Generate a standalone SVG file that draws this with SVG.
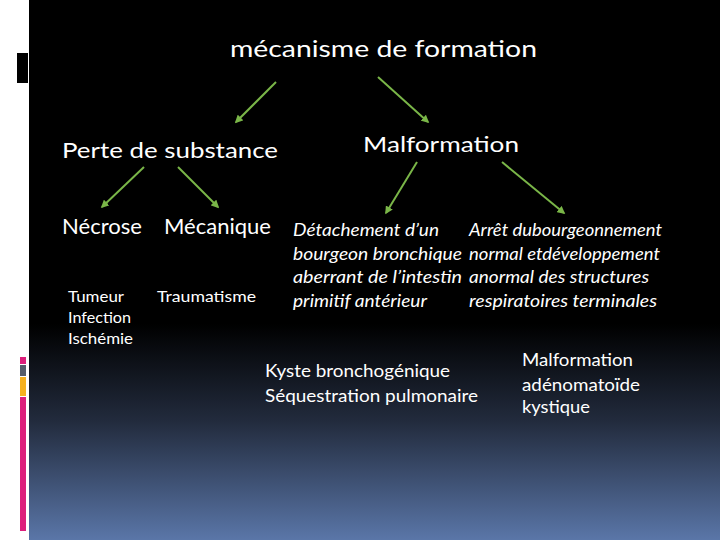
<svg xmlns="http://www.w3.org/2000/svg" width="720" height="540" viewBox="0 0 720 540">
<defs>
<linearGradient id="bg" x1="0" y1="0" x2="0" y2="540" gradientUnits="userSpaceOnUse">
<stop offset="0" stop-color="#000000"/>
<stop offset="0.6" stop-color="#000000"/>
<stop offset="0.78" stop-color="#222b3d"/>
<stop offset="1" stop-color="#5a76a8"/>
</linearGradient>
<marker id="ah" viewBox="0 0 10 10" refX="8" refY="5" markerWidth="8" markerHeight="8" markerUnits="userSpaceOnUse" orient="auto">
<path d="M0,0 L10,5 L0,10 z" fill="#7ab648"/>
</marker>
<style>
.t{fill:#ffffff;font-family:Lato,"Liberation Sans","DejaVu Sans",sans-serif}
.it{font-style:italic}
.c{stroke:#7ab648;stroke-width:2;fill:none;marker-end:url(#ah)}
</style>
</defs>
<rect x="0" y="0" width="720" height="540" fill="#ffffff"/>
<rect x="29" y="0" width="691" height="540" fill="url(#bg)"/>
<rect x="17" y="53" width="11" height="30" fill="#000000"/>
<rect x="20" y="357" width="6" height="7" fill="#dd1f7c"/>
<rect x="20" y="365" width="6" height="11" fill="#555d6b"/>
<rect x="20" y="377" width="6" height="19" fill="#f5b120"/>
<rect x="20" y="397" width="6" height="134" fill="#dd1f7c"/>

<g id="connectors">
<line class="c" x1="276" y1="82" x2="236" y2="122"/>
<line class="c" x1="378" y1="77" x2="428" y2="122"/>
<line class="c" x1="144" y1="167" x2="102" y2="207"/>
<line class="c" x1="178" y1="167" x2="218" y2="207"/>
<line class="c" x1="417" y1="162" x2="386" y2="213"/>
<line class="c" x1="502" y1="162" x2="564" y2="213"/>
</g>

<g id="title"><text class="t" x="230" y="57" font-size="24" textLength="307" lengthAdjust="spacingAndGlyphs">mécanisme de formation</text></g>
<g id="perte"><text class="t" x="62" y="158" font-size="22" textLength="216" lengthAdjust="spacingAndGlyphs">Perte de substance</text></g>
<g id="malformation"><text class="t" x="363" y="152" font-size="22" textLength="156" lengthAdjust="spacingAndGlyphs">Malformation</text></g>
<g id="necrose"><text class="t" x="62" y="234" font-size="21" textLength="80" lengthAdjust="spacingAndGlyphs">Nécrose</text></g>
<g id="mecanique"><text class="t" x="164" y="234" font-size="21" textLength="107" lengthAdjust="spacingAndGlyphs">Mécanique</text></g>
<g id="necrose-causes">
<text class="t" x="68" y="302" font-size="15" textLength="56" lengthAdjust="spacingAndGlyphs">Tumeur</text>
<text class="t" x="68" y="323" font-size="15" textLength="63" lengthAdjust="spacingAndGlyphs">Infection</text>
<text class="t" x="68" y="344" font-size="15" textLength="65" lengthAdjust="spacingAndGlyphs">Ischémie</text>
</g>
<g id="traumatisme"><text class="t" x="157" y="302" font-size="15" textLength="99" lengthAdjust="spacingAndGlyphs">Traumatisme</text></g>
<g id="detachement">
<text class="t it" x="293" y="236" font-size="17" textLength="146" lengthAdjust="spacingAndGlyphs">Détachement d’un</text>
<text class="t it" x="293" y="260" font-size="17" textLength="169" lengthAdjust="spacingAndGlyphs">bourgeon bronchique</text>
<text class="t it" x="293" y="283" font-size="17" textLength="169" lengthAdjust="spacingAndGlyphs">aberrant de l’intestin</text>
<text class="t it" x="293" y="307" font-size="17" textLength="134" lengthAdjust="spacingAndGlyphs">primitif antérieur</text>
</g>
<g id="arret">
<text class="t it" x="469" y="236" font-size="17" textLength="193" lengthAdjust="spacingAndGlyphs">Arrêt dubourgeonnement</text>
<text class="t it" x="469" y="260" font-size="17" textLength="191" lengthAdjust="spacingAndGlyphs">normal etdéveloppement</text>
<text class="t it" x="469" y="283" font-size="17" textLength="180" lengthAdjust="spacingAndGlyphs">anormal des structures</text>
<text class="t it" x="469" y="307" font-size="17" textLength="188" lengthAdjust="spacingAndGlyphs">respiratoires terminales</text>
</g>
<g id="kyste">
<text class="t" x="265" y="377" font-size="17" textLength="185" lengthAdjust="spacingAndGlyphs">Kyste bronchogénique</text>
<text class="t" x="265" y="402" font-size="17" textLength="213" lengthAdjust="spacingAndGlyphs">Séquestration pulmonaire</text>
</g>
<g id="mak">
<text class="t" x="522" y="366" font-size="17" textLength="111" lengthAdjust="spacingAndGlyphs">Malformation</text>
<text class="t" x="522" y="391" font-size="17" textLength="118" lengthAdjust="spacingAndGlyphs">adénomatoïde</text>
<text class="t" x="522" y="413" font-size="17" textLength="68" lengthAdjust="spacingAndGlyphs">kystique</text>
</g>
</svg>
